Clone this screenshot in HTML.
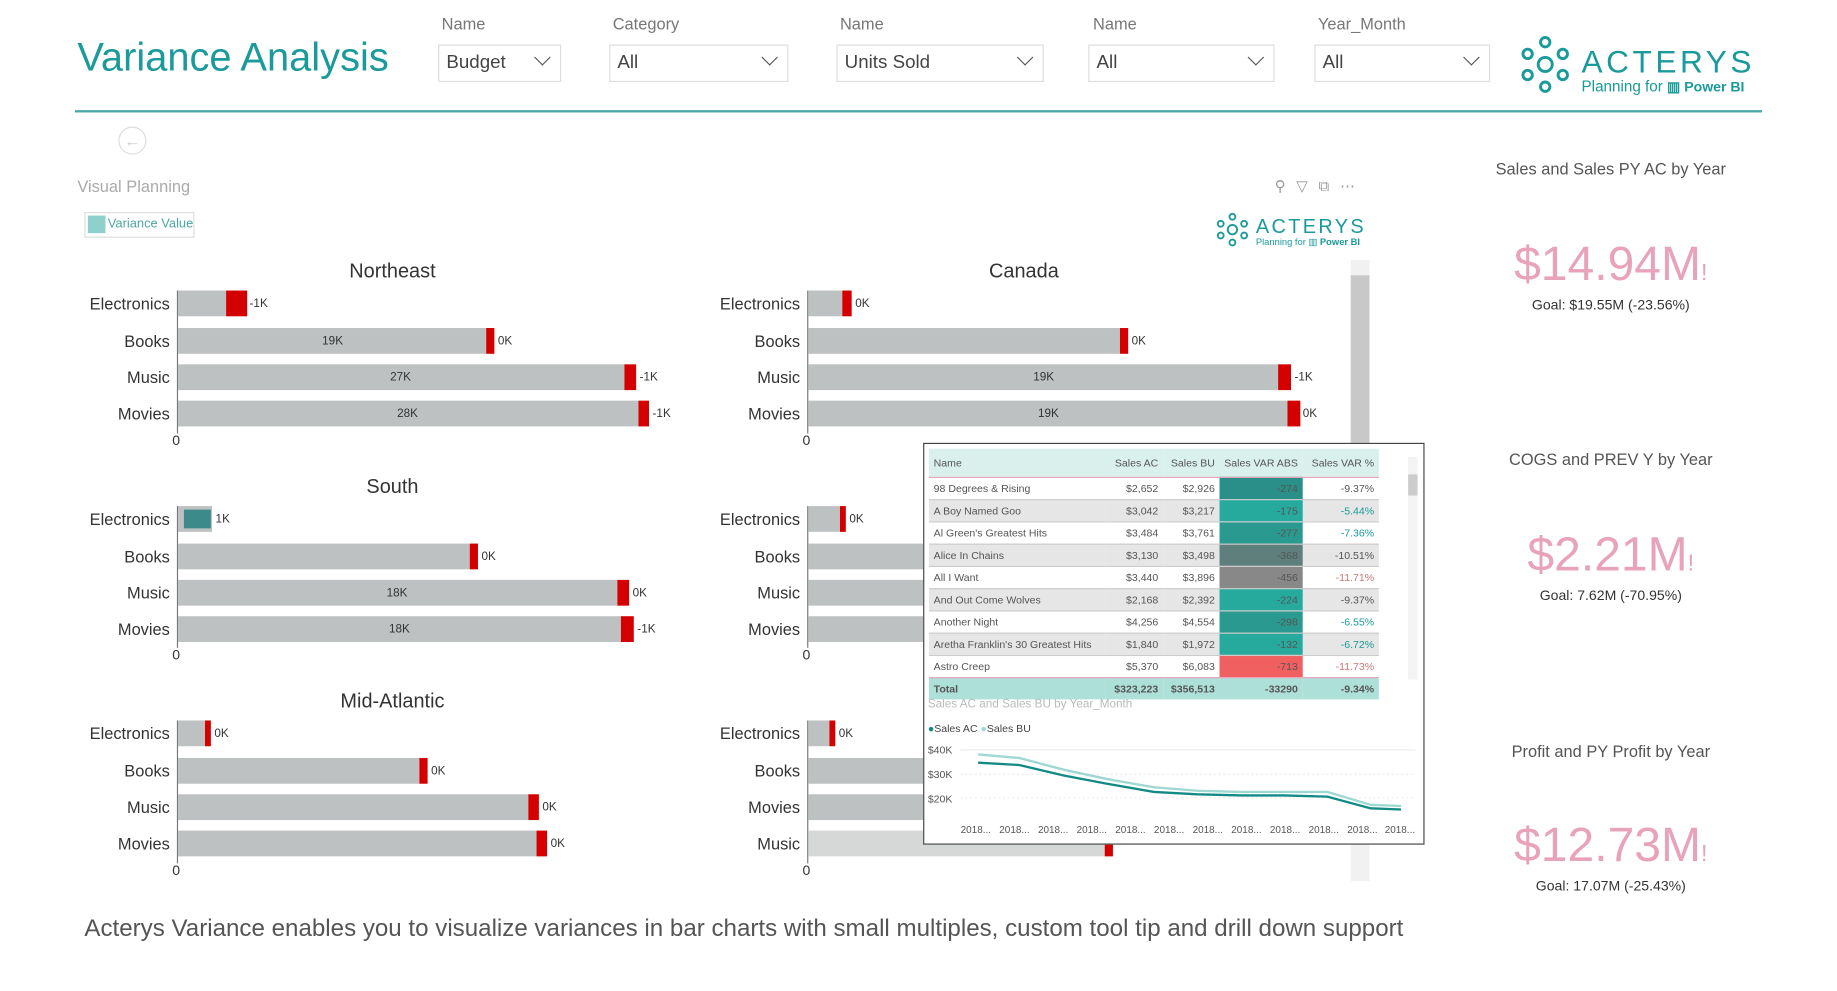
<!DOCTYPE html>
<html><head><meta charset="utf-8"><style>
html,body{margin:0;padding:0;background:#fff;width:1837px;height:991px;overflow:hidden}
#w{position:absolute;left:0;top:0;width:1568px;height:846px;transform:scale(1.1715);transform-origin:0 0;font-family:"Liberation Sans",sans-serif}
.a{position:absolute;white-space:nowrap}
.lab{color:#777;font-size:14px}
.box{position:absolute;border:1px solid #ddd;height:30px;top:38px;background:#fff}
.box span{position:absolute;left:6px;top:6px;font-size:16px;color:#444}
.chev{position:absolute;right:10px;top:5px;width:9px;height:9px;border-right:1.5px solid #555;border-bottom:1.5px solid #555;transform:rotate(45deg)}
.rl{position:absolute;font-size:14px;color:#333;text-align:right;width:100px}
.bar{position:absolute;height:22px;background:#bec1c1}
.red{position:absolute;height:22px;background:#d40000}
.bl{position:absolute;font-size:10px;color:#333}
.ax{position:absolute;width:1px;background:#777}
.ct{position:absolute;font-size:17px;color:#333;width:200px;text-align:center}
.kt{position:absolute;left:1255px;width:240px;text-align:center;font-size:14px;color:#555}
.kv{position:absolute;left:1255px;width:240px;text-align:center;font-size:41px;color:#e8a3bb;font-weight:300}
.kg{position:absolute;left:1255px;width:240px;text-align:center;font-size:12px;color:#333}
table{border-collapse:collapse;font-size:9px;color:#555}
td{height:18px;padding:0 4px;border-bottom:1px solid #ccc}
</style></head><body><div id="w">
<div class="a" style="left:66px;top:30px;font-size:34px;color:#1a9a9a">Variance Analysis</div>
<div class="a lab" style="left:377px;top:12px">Name</div>
<div class="a lab" style="left:523px;top:12px">Category</div>
<div class="a lab" style="left:717px;top:12px">Name</div>
<div class="a lab" style="left:933px;top:12px">Name</div>
<div class="a lab" style="left:1125px;top:12px">Year_Month</div>
<div class="box" style="left:374px;width:103px"><span>Budget</span><i class="chev"></i></div>
<div class="box" style="left:520px;width:151px"><span>All</span><i class="chev"></i></div>
<div class="box" style="left:714px;width:175px"><span>Units Sold</span><i class="chev"></i></div>
<div class="box" style="left:929px;width:157px"><span>All</span><i class="chev"></i></div>
<div class="box" style="left:1122px;width:148px"><span>All</span><i class="chev"></i></div>
<svg class="a" style="left:1296px;top:30px" width="46" height="50"><g fill="none" stroke="#1a9a9a" stroke-width="2.5"><circle cx="23" cy="6" r="4"/><circle cx="8" cy="16" r="4"/><circle cx="38" cy="16" r="4"/><circle cx="8" cy="34" r="4"/><circle cx="38" cy="34" r="4"/><circle cx="23" cy="44" r="4"/><circle cx="23" cy="25" r="6"/></g></svg>
<div class="a" style="left:1350px;top:38px;font-size:27px;letter-spacing:3px;color:#1a9a9a">ACTERYS</div>
<div class="a" style="left:1350px;top:66px;font-size:13px;color:#1a9a9a">Planning for <b style="font-size:12px">▥ Power BI</b></div>
<div class="a" style="left:64px;top:94px;width:1440px;height:2px;background:#4aa9a4"></div>
<div class="a" style="left:101px;top:108px;width:22px;height:22px;border:1px solid #ddd;border-radius:50%;color:#ccc;font-size:14px;text-align:center;line-height:22px">←</div>
<div class="a" style="left:66px;top:151px;font-size:14px;color:#aaa">Visual Planning</div>
<div class="a" style="left:72px;top:181px;width:92px;height:20px;border:1px solid #ddd"></div>
<div class="a" style="left:75px;top:184px;width:15px;height:15px;background:#8fd0cc"></div>
<div class="a" style="left:92px;top:185px;font-size:11px;color:#4aa9a4">Variance Value</div>
<div class="a" style="left:1088px;top:151px;font-size:13px;color:#999;letter-spacing:9px">⚲▽⧉⋯</div>
<svg class="a" style="left:1037px;top:181px" width="30" height="30"><g fill="none" stroke="#1a9a9a" stroke-width="1.6"><circle cx="15" cy="4" r="2.5"/><circle cx="5" cy="10" r="2.5"/><circle cx="25" cy="10" r="2.5"/><circle cx="5" cy="20" r="2.5"/><circle cx="25" cy="20" r="2.5"/><circle cx="15" cy="26" r="2.5"/><circle cx="15" cy="15" r="4"/></g></svg>
<div class="a" style="left:1072px;top:184px;font-size:17px;letter-spacing:2px;color:#1a9a9a">ACTERYS</div>
<div class="a" style="left:1072px;top:202px;font-size:8px;color:#1a9a9a">Planning for ▥ <b>Power BI</b></div>
<div class="a" style="left:1153px;top:222px;width:16px;height:530px;background:#f1f1f1"></div>
<div class="a" style="left:1153px;top:235px;width:16px;height:145px;background:#c8c8c8"></div>

<!-- Northeast -->
<div class="ct" style="left:235px;top:222px">Northeast</div>
<div class="ax" style="left:151px;top:248px;height:122px"></div>
<div class="bl" style="left:147px;top:369px;font-size:12px">0</div>
<div class="rl" style="left:45px;top:251px">Electronics</div><div class="bar" style="left:152px;top:248px;width:41px"></div><div class="red" style="left:193px;top:248px;width:18px"></div><div class="bl" style="left:213px;top:254px">-1K</div>
<div class="rl" style="left:45px;top:283px">Books</div><div class="bar" style="left:152px;top:280px;width:263px"></div><div class="red" style="left:415px;top:280px;width:7px"></div><div class="bl" style="left:275px;top:286px">19K</div><div class="bl" style="left:425px;top:286px">0K</div>
<div class="rl" style="left:45px;top:314px">Music</div><div class="bar" style="left:152px;top:311px;width:381px"></div><div class="red" style="left:533px;top:311px;width:10px"></div><div class="bl" style="left:333px;top:317px">27K</div><div class="bl" style="left:546px;top:317px">-1K</div>
<div class="rl" style="left:45px;top:345px">Movies</div><div class="bar" style="left:152px;top:342px;width:393px"></div><div class="red" style="left:545px;top:342px;width:9px"></div><div class="bl" style="left:339px;top:348px">28K</div><div class="bl" style="left:557px;top:348px">-1K</div>
<!-- Canada -->
<div class="ct" style="left:774px;top:222px">Canada</div>
<div class="ax" style="left:689px;top:248px;height:122px"></div>
<div class="bl" style="left:685px;top:369px;font-size:12px">0</div>
<div class="rl" style="left:583px;top:251px">Electronics</div><div class="bar" style="left:690px;top:248px;width:29px"></div><div class="red" style="left:719px;top:248px;width:8px"></div><div class="bl" style="left:730px;top:254px">0K</div>
<div class="rl" style="left:583px;top:283px">Books</div><div class="bar" style="left:690px;top:280px;width:266px"></div><div class="red" style="left:956px;top:280px;width:7px"></div><div class="bl" style="left:966px;top:286px">0K</div>
<div class="rl" style="left:583px;top:314px">Music</div><div class="bar" style="left:690px;top:311px;width:401px"></div><div class="red" style="left:1091px;top:311px;width:11px"></div><div class="bl" style="left:882px;top:317px">19K</div><div class="bl" style="left:1105px;top:317px">-1K</div>
<div class="rl" style="left:583px;top:345px">Movies</div><div class="bar" style="left:690px;top:342px;width:409px"></div><div class="red" style="left:1099px;top:342px;width:11px"></div><div class="bl" style="left:886px;top:348px">19K</div><div class="bl" style="left:1112px;top:348px">0K</div>
<!-- South -->
<div class="ct" style="left:235px;top:406px">South</div>
<div class="ax" style="left:151px;top:432px;height:121px"></div>
<div class="bl" style="left:147px;top:552px;font-size:12px">0</div>
<div class="rl" style="left:45px;top:435px">Electronics</div><div class="bar" style="left:152px;top:432px;width:29px"></div><div class="a" style="left:157px;top:435px;width:23px;height:16px;background:#3d8a8a"></div><div class="bl" style="left:184px;top:438px">1K</div>
<div class="rl" style="left:45px;top:467px">Books</div><div class="bar" style="left:152px;top:464px;width:249px"></div><div class="red" style="left:401px;top:464px;width:7px"></div><div class="bl" style="left:411px;top:470px">0K</div>
<div class="rl" style="left:45px;top:498px">Music</div><div class="bar" style="left:152px;top:495px;width:375px"></div><div class="red" style="left:527px;top:495px;width:10px"></div><div class="bl" style="left:330px;top:501px">18K</div><div class="bl" style="left:540px;top:501px">0K</div>
<div class="rl" style="left:45px;top:529px">Movies</div><div class="bar" style="left:152px;top:526px;width:378px"></div><div class="red" style="left:530px;top:526px;width:11px"></div><div class="bl" style="left:332px;top:532px">18K</div><div class="bl" style="left:544px;top:532px">-1K</div>
<!-- Canada 2 -->
<div class="ax" style="left:689px;top:432px;height:121px"></div>
<div class="bl" style="left:685px;top:552px;font-size:12px">0</div>
<div class="rl" style="left:583px;top:435px">Electronics</div><div class="bar" style="left:690px;top:432px;width:27px"></div><div class="red" style="left:717px;top:432px;width:5px"></div><div class="bl" style="left:725px;top:438px">0K</div>
<div class="rl" style="left:583px;top:467px">Books</div><div class="bar" style="left:690px;top:464px;width:100px"></div>
<div class="rl" style="left:583px;top:498px">Music</div><div class="bar" style="left:690px;top:495px;width:100px"></div>
<div class="rl" style="left:583px;top:529px">Movies</div><div class="bar" style="left:690px;top:526px;width:100px"></div>
<!-- Mid-Atlantic -->
<div class="ct" style="left:235px;top:589px">Mid-Atlantic</div>
<div class="ax" style="left:151px;top:615px;height:122px"></div>
<div class="bl" style="left:147px;top:736px;font-size:12px">0</div>
<div class="rl" style="left:45px;top:618px">Electronics</div><div class="bar" style="left:152px;top:615px;width:23px"></div><div class="red" style="left:175px;top:615px;width:5px"></div><div class="bl" style="left:183px;top:621px">0K</div>
<div class="rl" style="left:45px;top:650px">Books</div><div class="bar" style="left:152px;top:647px;width:206px"></div><div class="red" style="left:358px;top:647px;width:7px"></div><div class="bl" style="left:368px;top:653px">0K</div>
<div class="rl" style="left:45px;top:681px">Music</div><div class="bar" style="left:152px;top:678px;width:299px"></div><div class="red" style="left:451px;top:678px;width:9px"></div><div class="bl" style="left:463px;top:684px">0K</div>
<div class="rl" style="left:45px;top:712px">Movies</div><div class="bar" style="left:152px;top:709px;width:306px"></div><div class="red" style="left:458px;top:709px;width:9px"></div><div class="bl" style="left:470px;top:715px">0K</div>
<!-- Canada 3 -->
<div class="ax" style="left:689px;top:615px;height:122px"></div>
<div class="bl" style="left:685px;top:736px;font-size:12px">0</div>
<div class="rl" style="left:583px;top:618px">Electronics</div><div class="bar" style="left:690px;top:615px;width:18px"></div><div class="red" style="left:708px;top:615px;width:5px"></div><div class="bl" style="left:716px;top:621px">0K</div>
<div class="rl" style="left:583px;top:650px">Books</div><div class="bar" style="left:690px;top:647px;width:100px"></div>
<div class="rl" style="left:583px;top:681px">Movies</div><div class="bar" style="left:690px;top:678px;width:100px"></div>
<div class="rl" style="left:583px;top:712px">Music</div><div class="bar" style="left:690px;top:709px;width:253px;background:#d6d8d8"></div><div class="red" style="left:943px;top:709px;width:7px"></div>

<!-- Tooltip -->
<div class="a" style="left:788px;top:378px;width:426px;height:341px;border:1px solid #444;background:#fff"></div>
<div class="a" style="left:793px;top:383px">
<table style="width:384px">
<tr style="background:#d9f0ec;height:24px"><td style="border-bottom:1px solid #e8a3bb">Name</td><td align="right" style="border-bottom:1px solid #e8a3bb">Sales AC</td><td align="right" style="border-bottom:1px solid #e8a3bb">Sales BU</td><td align="right" style="border-bottom:1px solid #e8a3bb">Sales VAR ABS</td><td align="right" style="border-bottom:1px solid #e8a3bb">Sales VAR %</td></tr>
<tr><td>98 Degrees &amp; Rising</td><td align="right">$2,652</td><td align="right">$2,926</td><td align="right" style="background:#2a8f88;width:58px">-274</td><td align="right">-9.37%</td></tr>
<tr style="background:#e6e6e6"><td>A Boy Named Goo</td><td align="right">$3,042</td><td align="right">$3,217</td><td align="right" style="background:#26aa9e">-175</td><td align="right" style="color:#1a9a9a">-5.44%</td></tr>
<tr><td>Al Green's Greatest Hits</td><td align="right">$3,484</td><td align="right">$3,761</td><td align="right" style="background:#2a9a90">-277</td><td align="right" style="color:#1a9a9a">-7.36%</td></tr>
<tr style="background:#e6e6e6"><td>Alice In Chains</td><td align="right">$3,130</td><td align="right">$3,498</td><td align="right" style="background:#5f7f7d">-368</td><td align="right">-10.51%</td></tr>
<tr><td>All I Want</td><td align="right">$3,440</td><td align="right">$3,896</td><td align="right" style="background:#888">-456</td><td align="right" style="color:#c77">-11.71%</td></tr>
<tr style="background:#e6e6e6"><td>And Out Come Wolves</td><td align="right">$2,168</td><td align="right">$2,392</td><td align="right" style="background:#26aa9e">-224</td><td align="right">-9.37%</td></tr>
<tr><td>Another Night</td><td align="right">$4,256</td><td align="right">$4,554</td><td align="right" style="background:#2a9a90">-298</td><td align="right" style="color:#1a9a9a">-6.55%</td></tr>
<tr style="background:#e6e6e6"><td>Aretha Franklin's 30 Greatest Hits</td><td align="right">$1,840</td><td align="right">$1,972</td><td align="right" style="background:#26aa9e">-132</td><td align="right" style="color:#1a9a9a">-6.72%</td></tr>
<tr><td style="border-bottom:1px solid #e8a3bb">Astro Creep</td><td align="right" style="border-bottom:1px solid #e8a3bb">$5,370</td><td align="right" style="border-bottom:1px solid #e8a3bb">$6,083</td><td align="right" style="background:#f06060;border-bottom:1px solid #e8a3bb">-713</td><td align="right" style="color:#c77;border-bottom:1px solid #e8a3bb">-11.73%</td></tr>
<tr style="background:#aee0da;font-weight:bold"><td style="border:0">Total</td><td align="right" style="border:0">$323,223</td><td align="right" style="border:0">$356,513</td><td align="right" style="border:0">-33290</td><td align="right" style="border:0">-9.34%</td></tr>
</table></div>
<div class="a" style="left:1202px;top:390px;width:8px;height:190px;background:#f3f3f3"></div>
<div class="a" style="left:1202px;top:405px;width:8px;height:18px;background:#ccc"></div>
<div class="a" style="left:792px;top:596px;font-size:10px;color:#bbb">Sales AC and Sales BU by Year_Month</div>
<div class="a" style="left:792px;top:617px;font-size:9px;color:#444"><span style="color:#138a85">●</span>Sales AC <span style="color:#9fd8d2">●</span>Sales BU</div>
<svg class="a" style="left:790px;top:632px" width="420" height="85" font-family="Liberation Sans" font-size="9" fill="#555">
<line x1="30" y1="8" x2="418" y2="8" stroke="#eee"/><line x1="30" y1="29" x2="418" y2="29" stroke="#eee" stroke-dasharray="2 2"/><line x1="30" y1="49" x2="418" y2="49" stroke="#eee" stroke-dasharray="2 2"/>
<text x="2" y="11">$40K</text><text x="2" y="32">$30K</text><text x="2" y="53">$20K</text>
<polyline fill="none" stroke="#9fd8d2" stroke-width="2" points="45,12 80,15 118,25 155,33 195,40 232,43 270,44 306,44 343,44 380,55 406,56"/>
<polyline fill="none" stroke="#138a85" stroke-width="2" points="45,19 80,21 118,30 155,37 195,44 232,46 270,47 306,47 343,48 380,58 406,59"/>
<g font-size="8.5"><text x="30" y="79">2018...</text><text x="63" y="79">2018...</text><text x="96" y="79">2018...</text><text x="129" y="79">2018...</text><text x="162" y="79">2018...</text><text x="195" y="79">2018...</text><text x="228" y="79">2018...</text><text x="261" y="79">2018...</text><text x="294" y="79">2018...</text><text x="327" y="79">2018...</text><text x="360" y="79">2018...</text><text x="392" y="79">2018...</text></g>
</svg>

<!-- KPIs -->
<div class="kt" style="top:136px">Sales and Sales PY AC by Year</div>
<div class="kv" style="top:202px">$14.94M<span style="font-size:20px">!</span></div>
<div class="kg" style="top:253px">Goal: $19.55M (-23.56%)</div>
<div class="kt" style="top:384px">COGS and PREV Y by Year</div>
<div class="kv" style="top:450px">$2.21M<span style="font-size:20px">!</span></div>
<div class="kg" style="top:501px">Goal: 7.62M (-70.95%)</div>
<div class="kt" style="top:633px">Profit and PY Profit by Year</div>
<div class="kv" style="top:698px">$12.73M<span style="font-size:20px">!</span></div>
<div class="kg" style="top:749px">Goal: 17.07M (-25.43%)</div>

<div class="a" style="left:72px;top:781px;font-size:20.6px;color:#555">Acterys Variance enables you to visualize variances in bar charts with small multiples, custom tool tip and drill down support</div>
</div></body></html>
